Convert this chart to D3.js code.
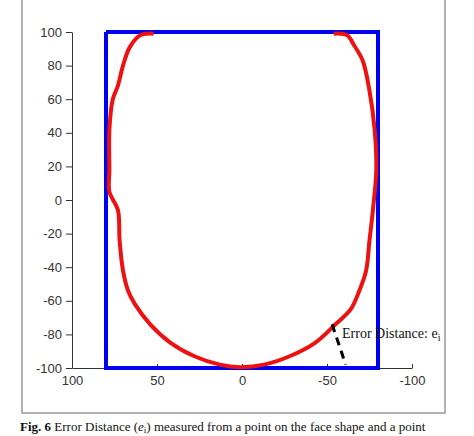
<!DOCTYPE html><html><head><meta charset="utf-8"><script src="https://cdn.jsdelivr.net/npm/d3@7"></script>
<style>body{margin:0;background:#fff}</style></head><body><svg id="c" width="474" height="436"></svg>
<script>
const xTicks=[100,50,0,-50,-100];
const yTicks=[100,80,60,40,20,0,-20,-40,-60,-80,-100];
const boxX=[80,-80,-80,80,80];
const boxY=[100,100,-100,-100,100];
const faceX=[52,56,60,66,70,73,76,78,78,78,73,72,70,67,63,54,42,28,13,1,-13,-28,-43,-55,-64,-69,-73,-75,-77,-79,-78,-75,-71,-66,-62,-58,-54];
const faceY=[99,99,98,91,80,68,60,42,18,5,-6,-24,-42,-54,-62,-74,-85,-93,-98,-99.5,-98,-93,-85,-74,-65,-54,-42,-24,-6,18,42,65,83,92,98,99,99];
const dashX=[-53,-61], dashY=[-74,-98];
const svg=d3.select("#c");
const x=d3.scaleLinear().domain([100,-100]).range([72,412]);
const y=d3.scaleLinear().domain([-100,100]).range([368,32]);
svg.append("path").attr("d","M22,-5V413H445V-5").attr("fill","none").attr("stroke","#999").attr("stroke-width",1.5);
const ax=svg.append("g").attr("transform","translate(0,368)").call(d3.axisBottom(x).tickValues(xTicks).tickFormat(String).tickSizeInner(-4).tickSizeOuter(0).tickPadding(8));
const ay=svg.append("g").attr("transform","translate(72,0)").call(d3.axisLeft(y).tickValues(yTicks).tickFormat(String).tickSizeInner(6).tickSizeOuter(0).tickPadding(4));
[ax,ay].forEach(a=>{a.selectAll("path,line").attr("stroke","#333");a.selectAll("text").attr("font-family","Liberation Sans, Arial").attr("font-size",13).attr("fill","#333");});
svg.append("path").attr("d",d3.line().x((d,i)=>x(boxX[i])).y((d,i)=>y(boxY[i]))(boxX)).attr("fill","none").attr("stroke","#0000ee").attr("stroke-width",4);
svg.append("path").attr("d",d3.line().x((d,i)=>x(faceX[i])).y((d,i)=>y(faceY[i])).curve(d3.curveCatmullRom)(faceX)).attr("fill","none").attr("stroke","#ee1111").attr("stroke-width",4);
svg.append("line").attr("x1",x(dashX[0])).attr("y1",y(dashY[0])).attr("x2",x(dashX[1])).attr("y2",y(dashY[1])).attr("stroke","#000").attr("stroke-width",3).attr("stroke-dasharray","8,6");
const t=svg.append("text").attr("x",342).attr("y",338).attr("font-family","Liberation Serif, Times New Roman").attr("font-size",14).attr("fill","#111").text("Error Distance: e");
t.append("tspan").attr("font-size",10).attr("dy",3).text("i");
const c=svg.append("text").attr("x",20).attr("y",431).attr("font-family","Liberation Serif, Times New Roman").attr("font-size",13).attr("fill","#111");
c.append("tspan").attr("font-weight","bold").text("Fig. 6");
c.append("tspan").text(" Error Distance (");
c.append("tspan").attr("font-style","italic").text("e");
c.append("tspan").attr("font-size",9).attr("dy",2).text("i");
c.append("tspan").attr("dy",-2).text(") measured from a point on the face shape and a point");
</script></body></html>
